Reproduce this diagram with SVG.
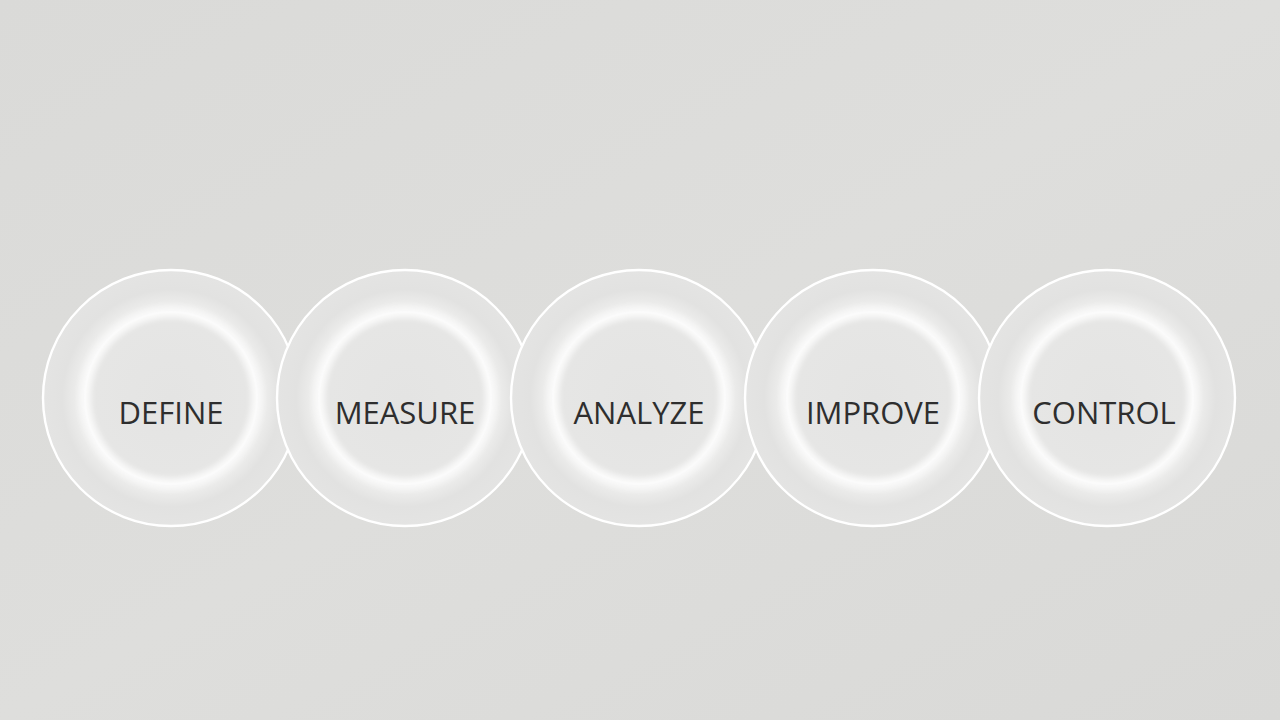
<svg xmlns="http://www.w3.org/2000/svg" width="1280" height="720" viewBox="0 0 1280 720">
<defs>
<linearGradient id="bg" x1="0" y1="0" x2="1" y2="1">
<stop offset="0" stop-color="#dadad8"/>
<stop offset="0.5" stop-color="#dededc"/>
<stop offset="1" stop-color="#d9d9d7"/>
</linearGradient>
<radialGradient id="disc" cx="0.5" cy="0.5" r="0.5">
<stop offset="0" stop-color="#e4e4e3"/>
<stop offset="0.6" stop-color="#e6e6e5"/>
<stop offset="0.72" stop-color="#eeeeed"/>
<stop offset="0.85" stop-color="#e2e2e1"/>
<stop offset="1" stop-color="#e4e4e3"/>
</radialGradient>
<filter id="glow" x="-30%" y="-30%" width="160%" height="160%">
<feGaussianBlur stdDeviation="3.5"/>
</filter>
<style>
.outer{fill:url(#disc);stroke:#ffffff;stroke-width:2.4}
.ringglow{fill:none;stroke:#ffffff;stroke-width:9;opacity:0.9;filter:url(#glow)}
.ring{fill:none;stroke:#fbfbfb;stroke-width:1.8}
.lbl{font-family:"Open Sans","Liberation Sans",sans-serif;font-size:31px;fill:#2e2e2e;text-anchor:middle}
</style>
</defs>
<rect width="1280" height="720" fill="url(#bg)"/>
<g id="define">
<circle class="outer" cx="171" cy="398" r="128"/>
<circle class="ringglow" cx="171" cy="398" r="86"/>
<circle class="ring" cx="171" cy="398" r="86"/>
<text class="lbl" x="171" y="424">DEFINE</text>
</g>
<g id="measure">
<circle class="outer" cx="405" cy="398" r="128"/>
<circle class="ringglow" cx="405" cy="398" r="86"/>
<circle class="ring" cx="405" cy="398" r="86"/>
<text class="lbl" x="405" y="424">MEASURE</text>
</g>
<g id="analyze">
<circle class="outer" cx="639" cy="398" r="128"/>
<circle class="ringglow" cx="639" cy="398" r="86"/>
<circle class="ring" cx="639" cy="398" r="86"/>
<text class="lbl" x="639" y="424">ANALYZE</text>
</g>
<g id="improve">
<circle class="outer" cx="873" cy="398" r="128"/>
<circle class="ringglow" cx="873" cy="398" r="86"/>
<circle class="ring" cx="873" cy="398" r="86"/>
<text class="lbl" x="873" y="424">IMPROVE</text>
</g>
<g id="control">
<circle class="outer" cx="1107" cy="398" r="128"/>
<circle class="ringglow" cx="1107" cy="398" r="86"/>
<circle class="ring" cx="1107" cy="398" r="86"/>
<text class="lbl" x="1104" y="424">CONTROL</text>
</g>
<g id="connectors"></g>
</svg>
